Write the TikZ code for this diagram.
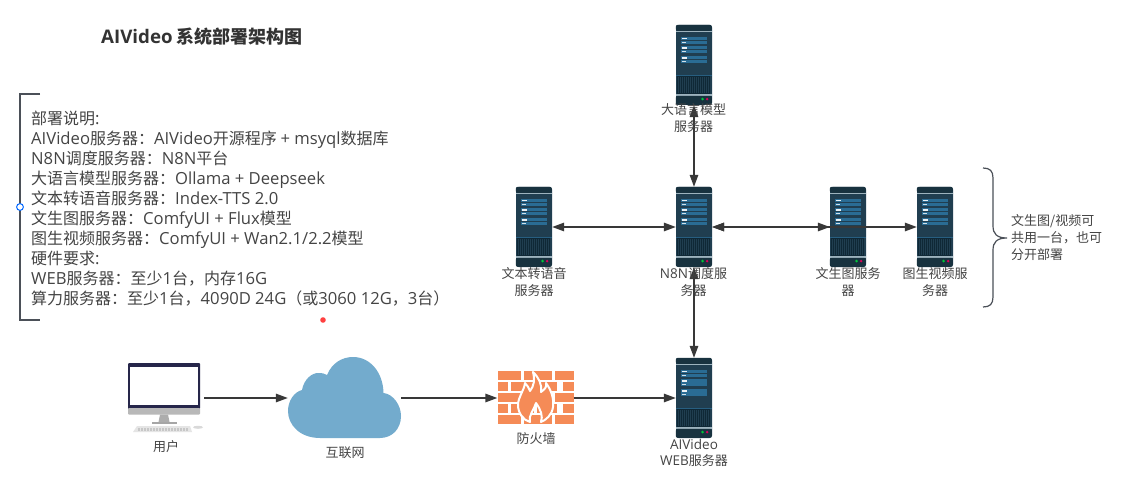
\documentclass[tikz,border=0pt]{standalone}
\usepackage{fontspec}
\setmainfont{Noto Sans CJK SC}
\newfontfamily\latn[Scale=1.04]{Open Sans}
\newcommand{\la}[1]{{\latn #1}}
\newcommand{\cco}{\symbol{"FF1A}}
\newcommand{\cma}{\symbol{"FF0C}}
\newcommand{\lpa}{\symbol{"FF08}}
\newcommand{\rpa}{\symbol{"FF09}}
\usetikzlibrary{arrows.meta}
\definecolor{txt}{HTML}{444444}
\definecolor{srvbody}{HTML}{203E50}
\definecolor{srvdark}{HTML}{18323F}
\definecolor{srvband}{HTML}{9DB3BE}
\definecolor{srvrow}{HTML}{2A6C94}
\definecolor{srvgrill}{HTML}{0F2836}
\definecolor{brick}{HTML}{F58B57}
\definecolor{cloudblue}{HTML}{73ABCD}
\definecolor{brk}{HTML}{4B5058}
\tikzset{
  x=1pt,y=-1pt,
  conn/.style={draw=black!78,line width=1.4pt,-{Triangle[length=12pt,width=8.5pt]}},
  conn2/.style={draw=black!78,line width=1.4pt,{Triangle[length=12pt,width=8.5pt]}-{Triangle[length=12pt,width=8.5pt]}},
  lab/.style={font=\fontsize{13}{16.5}\selectfont,text=txt,align=center,inner sep=0pt},
  srv/.style={fill=srvbody,rounded corners=2.5pt,minimum width=36pt,minimum height=80pt,inner sep=0pt,draw=none},
}
\newcommand{\srvdetail}[1]{%
  \begin{scope}[shift={(#1.north west)},x=1pt,y=-1pt]
    \fill[srvdark,rounded corners=2pt] (0,0) rectangle (36,6);
    \fill[srvband] (0,5.8) rectangle (36,7);
    \foreach \t in {12,21.5,31.5}{
      \fill[srvrow] (5,\t) rectangle (31,\t+3.2);
      \fill[srvrow] (5,\t+3.9) rectangle (31,\t+7.1);
      \fill[white!90!srvrow] (6,\t+1) rectangle (11,\t+2.3);
      \fill[white!80!srvrow] (6,\t+4.8) rectangle (10,\t+6.1);
    }
    \fill[srvrow!70!srvbody] (0,50.5) rectangle (36,51.1);
    \fill[srvgrill] (1.5,51.5) rectangle (34.5,69);
    \foreach \g in {3,5,...,33}{\draw[srvbody,line width=0.7pt] (\g,52) -- (\g,68.5);}
    \fill[srvband] (0,69.5) rectangle (36,71);
    \fill[srvdark,rounded corners=2pt] (0,71) rectangle (36,80);
    \fill[green!55!teal] (26.7,74.3) circle (1.4);
    \fill[red!60!magenta!85!black] (31.3,74.3) circle (1.4);
  \end{scope}}
\begin{document}
\begin{tikzpicture}
\useasboundingbox (0,0) rectangle (1123,494);
\fill[white] (0,0) rectangle (1123,494);
% title
\node[anchor=west,inner sep=0pt,text=black!80,font=\fontsize{18}{20}\selectfont\bfseries] (title) at (101,37) {\la{AIVideo} 系统部署架构图};
% servers
\node[srv] (llm)  at (694,65)  {};
\node[srv] (n8n)  at (694,227) {};
\node[srv] (tts)  at (534,227) {};
\node[srv] (t2i)  at (848,227) {};
\node[srv] (i2v)  at (935,227) {};
\node[srv] (web)  at (694,398) {};
\srvdetail{llm}\srvdetail{n8n}\srvdetail{tts}\srvdetail{t2i}\srvdetail{i2v}\srvdetail{web}
% user computer
\node[inner sep=0pt,minimum width=72pt,minimum height=51pt] (user) at (164,388.5) {};
\fill[black!80!blue!70!gray,rounded corners=1pt] (128,363) rectangle (200,409);
\fill[white] (130,367) rectangle (198,405);
\fill[black!28,rounded corners=1pt] (128,408) rectangle (200,414.5);
\fill[black!32] (160,414.5) -- (168,414.5) -- (169.5,422) -- (158.5,422) -- cycle;
\fill[black!35] (152,422) rectangle (177,424);
\fill[black!10] (137,426) -- (190,426) -- (192,432) -- (133,432) -- cycle;
\foreach \k in {138,141,...,188}{\fill[black!22] (\k,427.5) rectangle (\k+1.5,430.5);}
\fill[black!15] (198,427.3) ellipse (5 and 1.5);
% cloud
\fill[cloudblue] (320,438)
  .. controls (300,438) and (288,425) .. (288,411)
  .. controls (288,401) and (294,392) .. (302,390)
  .. controls (304,379) and (312,373) .. (318,373)
  .. controls (322,373) and (325,373.5) .. (327,375)
  .. controls (332,363) and (342,357) .. (353,357)
  .. controls (370,357) and (383,372) .. (383.5,393)
  .. controls (393,394) and (401,405) .. (401,416)
  .. controls (401,429) and (392,438) .. (380,438) -- cycle;
\node[inner sep=0pt,minimum width=113pt,minimum height=81pt] (cloud) at (344.5,397.5) {};
% firewall
\node[inner sep=0pt,minimum width=76pt,minimum height=53pt] (fw) at (535.5,397.5) {};
\foreach \xa/\xb/\yy in {498/520.5/371,524/552/371,555/574/371,
  498/508/382,511/534/382,537/557/382,563/574/382,
  498/520.5/393,524/552/393,555/574/393,
  498/508/404,511/534/404,537/557/404,563/574/404,
  498/520.5/415,524/552/415,555/574/415}{
  \fill[brick] (\xa,\yy) rectangle (\xb,\yy+9);
}
\filldraw[brick,draw=white,line width=2pt,line join=round]
  (533,372) .. controls (539,378) and (542,384) .. (541,392)
  .. controls (545,389) and (547,387) .. (546,383)
  .. controls (552,391) and (554,400) .. (553,407)
  .. controls (552,415) and (546,420) .. (541,422)
  .. controls (543,416) and (541,410) .. (536,403)
  .. controls (534,410) and (528,416) .. (530,422)
  .. controls (523,420) and (518,413) .. (518,405)
  .. controls (518,397) and (524,391) .. (525,383)
  .. controls (527,385) and (529,388) .. (530,391)
  .. controls (534,386) and (535,380) .. (533,372) -- cycle;
% connectors
\draw[conn2] (llm.south) -- (n8n.north);
\draw[conn2] (n8n.south) -- (web.north);
\draw[conn2] (tts.east) -- (n8n.west);
\draw[conn2] (n8n.east) -- (t2i.west);
\draw[conn2] (n8n.east) -- (i2v.west);
\draw[conn] (204,398) -- (cloud.west |- 0,398);
\draw[conn] (cloud.east |- 0,398) -- (fw.west |- 0,398);
\draw[conn] (fw.east |- 0,398) -- (web.west);
% labels
\node[lab] (l1) at (693.5,118) {大语言模型\\服务器};
\node[lab] (l2) at (534,282) {文本转语音\\服务器};
\node[lab] (l3) at (693.5,282) {\la{N8N}调度服\\务器};
\node[lab] (l4) at (848,282) {文生图服务\\器};
\node[lab] (l5) at (935,282) {图生视频服\\务器};
\node[lab] (l6) at (694,453) {\la{AIVideo}\\\la{WEB}服务器};
\node[lab] (l7) at (166,447) {用户};
\node[lab] (l8) at (345,453) {互联网};
\node[lab] (l9) at (536,439) {防火墙};
% left bracket and note
\draw[brk,line width=1.2pt] (40,94) -- (20,94) -- (20,320) -- (40,320);
\filldraw[draw=blue!60!cyan,fill=white,line width=1pt] (20,207) circle (3.4);
\fill[red!75!white] (323,320) circle (2.8);
\node[anchor=north west,align=left,inner sep=0pt,text=txt,font=\fontsize{16}{20}\selectfont] (note) at (31,110.5) {部署说明\la{:}\\\la{AIVideo}服务器\cco\la{AIVideo}开源程序 \la{+ msyql}数据库\\\la{N8N}调度服务器\cco\la{N8N}平台\\大语言模型服务器\cco\la{Ollama + Deepseek}\\文本转语音服务器\cco\la{Index-TTS 2.0}\\文生图服务器\cco\la{ComfyUI + Flux}模型\\图生视频服务器\cco\la{ComfyUI + Wan2.1/2.2}模型\\硬件要求\la{:}\\\la{WEB}服务器\cco 至少\la{1}台\cma 内存\la{16G}\\算力服务器\cco 至少\la{1}台\cma\la{4090D 24G}\lpa 或\la{3060 12G}\cma\la{3}台\rpa};
% right brace
\draw[brk,line width=1.2pt] (983,168) .. controls (990,168) and (993,171) .. (993,178) -- (993,226)
  .. controls (993,234) and (997,238) .. (1007,238)
  .. controls (997,238) and (993,242) .. (993,250) -- (993,297)
  .. controls (993,304) and (990,307) .. (983,307);
\node[anchor=west,align=left,inner sep=0pt,text=txt,font=\fontsize{13}{17}\selectfont] (side) at (1011,238) {文生图/视频可\\共用一台\cma 也可\\分开部署};
\end{tikzpicture}
\end{document}
